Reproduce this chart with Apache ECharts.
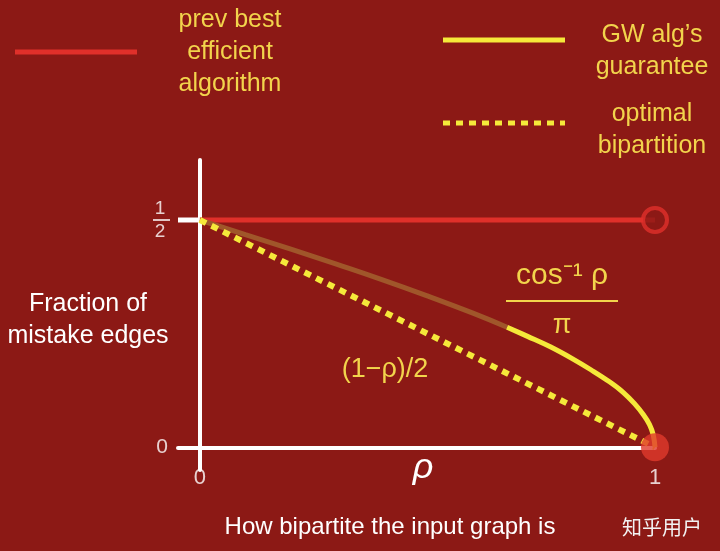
<!DOCTYPE html>
<html><head><meta charset="utf-8">
<script src="https://cdn.jsdelivr.net/npm/echarts@6/dist/echarts.min.js"></script>
<style>html,body{margin:0;background:#8c1915}#c{width:720px;height:551px}</style>
</head><body><div id="c"></div>
<script>
// values
const rhoBrown = [0, 0.1, 0.2, 0.3, 0.4, 0.5, 0.6, 0.675]
const gwBrown = [0.5, 0.468, 0.436, 0.403, 0.369, 0.333, 0.295, 0.264]
const rhoYellow = [0.675, 0.72, 0.77, 0.82, 0.86, 0.9, 0.93, 0.955, 0.975, 0.988, 0.996, 1]
const gwYellow = [0.264, 0.244, 0.221, 0.194, 0.17, 0.144, 0.121, 0.096, 0.071, 0.05, 0.028, 0]
const optimal = [[0, 0.5], [1, 0]]
const prevBest = [[0, 0.5], [1, 0.5]]
const xTicks = [[0, '0'], [1, '1']]
const yTicks = [[0, '0'], [0.5, '{n|1}\n{d|2}']]

const bg = '#8c1915', yellow = '#f5e93a', textYellow = '#f2d44c', red = '#e0302a'
const font = 'Liberation Sans'
const chart = echarts.init(document.getElementById('c'))
const txt = (x, y, s, color, size, extra) => Object.assign({
  type: 'text', x, y, style: { text: s, fill: color, font: `${size}px "${font}"`, align: 'center', verticalAlign: 'middle', lineHeight: 32 }
}, extra || {})
const seg = (x1, y1, x2, y2, color, dash) => ({
  type: 'line', shape: { x1, y1, x2, y2 }, style: { stroke: color, lineWidth: 5, lineDash: dash || null }
})

chart.setOption({
  backgroundColor: bg,
  animation: false,
  grid: { left: 178, right: 65, top: 160, bottom: 81 },
  xAxis: { type: 'value', min: -0.048, max: 1, splitLine: { show: false }, axisTick: { show: false }, axisLabel: { show: false },
    axisLine: { lineStyle: { color: '#fff', width: 4 } } },
  yAxis: { type: 'value', min: -0.05, max: 0.632, splitLine: { show: false }, axisTick: { show: false }, axisLabel: { show: false },
    axisLine: { lineStyle: { color: '#fff', width: 4 } } },
  series: [
    { type: 'line', data: prevBest, symbol: 'none', lineStyle: { color: red, width: 5 }, z: 3 },
    { type: 'line', data: optimal, symbol: 'none', lineStyle: { color: yellow, width: 6, type: [7, 6] }, z: 4 },
    { type: 'line', data: rhoBrown.map((r, i) => [r, gwBrown[i]]), symbol: 'none', smooth: true, lineStyle: { color: '#a0562a', width: 5 }, z: 3 },
    { type: 'line', data: rhoYellow.map((r, i) => [r, gwYellow[i]]), symbol: 'none', smooth: 0.4, lineStyle: { color: yellow, width: 5 }, z: 3 },
    { type: 'scatter', data: [[1, 0.5]], symbolSize: 24, itemStyle: { color: bg, borderColor: red, borderWidth: 4 }, z: 5 },
    { type: 'scatter', data: [[1, 0]], symbolSize: 28, itemStyle: { color: '#e0392c' }, z: 6 },
    { type: 'scatter', data: xTicks.map(t => [t[0], 0]), symbolSize: 0, silent: true,
      label: { show: true, position: [-6, 20], formatter: p => xTicks[p.dataIndex][1], color: '#fff', fontSize: 22, fontFamily: font } },
    { type: 'scatter', data: yTicks.map(t => [-0.048, t[0]]), symbolSize: 0, silent: true,
      label: { show: true, position: 'left', distance: 10, formatter: p => yTicks[p.dataIndex][1], color: '#fff', fontSize: 21, fontFamily: font,
        rich: { n: { fontSize: 19, color: '#fff', width: 16, align: 'center', lineHeight: 23 },
                d: { fontSize: 19, color: '#fff', width: 16, align: 'center', lineHeight: 23 } } } }
  ],
  graphic: [
    seg(178, 220, 200, 220, '#fff'),
    { type: 'line', shape: { x1: 153, y1: 220, x2: 170, y2: 220 }, style: { stroke: '#fff', lineWidth: 1.5 } },
    seg(15, 52, 137, 52, red),
    seg(443, 40, 565, 40, yellow),
    seg(443, 123, 565, 123, yellow, [7, 6]),
    txt(230, 52, 'prev best\nefficient\nalgorithm', textYellow, 25),
    txt(652, 51, 'GW alg\u2019s\nguarantee', textYellow, 25),
    txt(652, 130, 'optimal\nbipartition', textYellow, 25),
    txt(88, 320, 'Fraction of\nmistake edges', '#fff', 25),
    txt(385, 370, '(1\u2212\u03c1)/2', textYellow, 27),
    txt(423, 468, '\u03c1', '#fff', 34, { style: { text: '\u03c1', fill: '#fff', font: `italic 36px "${font}"`, align: 'center', verticalAlign: 'middle' } }),
    txt(390, 527, 'How bipartite the input graph is', '#fff', 24),
    txt(662, 527, '\u77e5\u4e4e\u7528\u6237', '#f2f2f2', 20, { style: { text: '\u77e5\u4e4e\u7528\u6237', fill: '#f2f2f2', font: '20px "Noto Sans CJK SC"', align: 'center', verticalAlign: 'middle' } }),
    txt(562, 276, 'cos\u207b\u00b9 \u03c1', textYellow, 30),
    { type: 'line', shape: { x1: 506, y1: 301, x2: 618, y2: 301 }, style: { stroke: textYellow, lineWidth: 2 } },
    txt(562, 326, '\u03c0', textYellow, 27)
  ]
})
</script></body></html>
